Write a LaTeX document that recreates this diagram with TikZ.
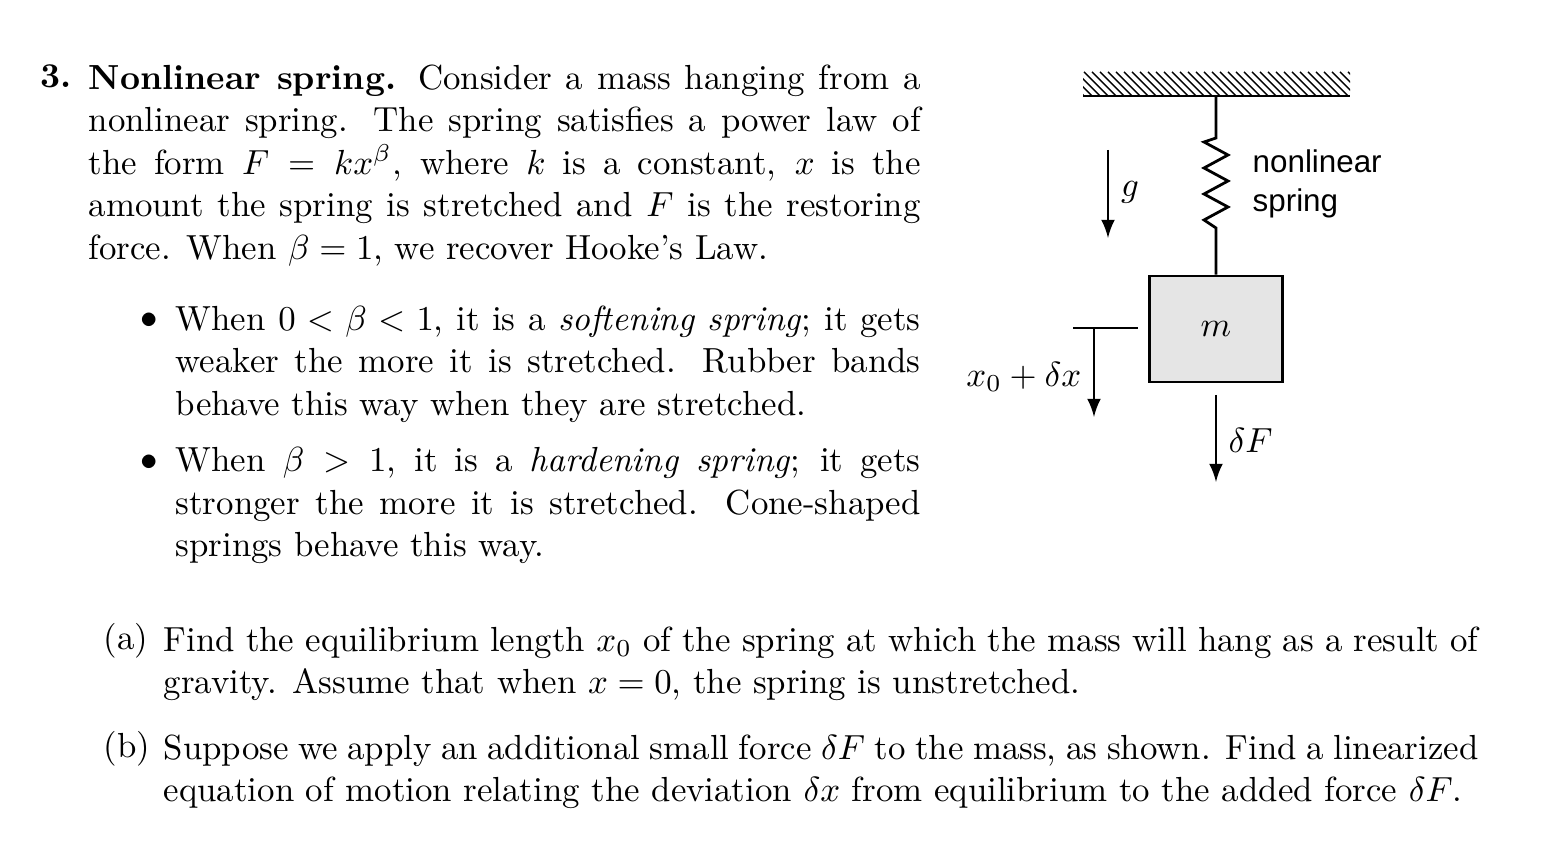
\documentclass[tikz,border=0pt]{standalone}
\usepackage{fontspec}
\newfontfamily\labsans{Liberation Sans}
\begin{document}
\begin{tikzpicture}[x=0.287pt,y=-0.287pt,
  txt/.style={anchor=north west,inner sep=0pt,align=justify},
  arr/.style={-latex,thick},
  ln/.style={thick}]
\useasboundingbox (0,0) rectangle (1544,854);
% text
\node[anchor=base west,inner sep=0pt] (num) at (40,88) {\textbf{3.}};
\node[txt,text width=238.8pt,execute at begin node={\baselineskip=12.2pt}] (p1) at (88,64) {\textbf{Nonlinear spring.} Consider a mass hanging from a\linebreak
nonlinear spring. The spring satisfies a power law of\linebreak
the form $F = kx^\beta$, where $k$ is a constant, $x$ is the\linebreak
amount the spring is stretched and $F$ is the restoring\linebreak
force. When $\beta=1$, we recover Hooke's Law.};
\node[anchor=base west,inner sep=0pt] (b1) at (140,329) {$\bullet$};
\node[txt,text width=213.8pt,execute at begin node={\baselineskip=12.2pt}] (t1) at (175,305) {When $0<\beta<1$, it is a \emph{softening spring}; it gets\linebreak
weaker the more it is stretched. Rubber bands\linebreak
behave this way when they are stretched.};
\node[anchor=base west,inner sep=0pt] (b2) at (140,471) {$\bullet$};
\node[txt,text width=213.8pt,execute at begin node={\baselineskip=12.2pt}] (t2) at (175,447) {When $\beta>1$, it is a \emph{hardening spring}; it gets\linebreak
stronger the more it is stretched. Cone-shaped\linebreak
springs behave this way.};
\node[anchor=base west,inner sep=0pt] (la) at (103,650) {(a)};
\node[txt,text width=377.4pt,execute at begin node={\baselineskip=12.2pt}] (ta) at (163,626) {Find the equilibrium length $x_0$ of the spring at which the mass will hang as a result of\linebreak
gravity. Assume that when $x=0$, the spring is unstretched.};
\node[anchor=base west,inner sep=0pt] (lb) at (103,758) {(b)};
\node[txt,text width=377.4pt,execute at begin node={\baselineskip=12.2pt}] (tb) at (163,734) {Suppose we apply an additional small force $\delta F$ to the mass, as shown. Find a linearized\linebreak
equation of motion relating the deviation $\delta x$ from equilibrium to the added force $\delta F$.};
% ceiling
\begin{scope}
\clip (1083,72) rectangle (1350,96);
\foreach \x in {1060,1068,...,1350} \draw[thin] (\x,72) -- (\x+24,96);
\end{scope}
\coordinate (c1) at (1083,96); \coordinate (c2) at (1350,96);
\draw[ln] (c1) -- (c2);
% spring
\coordinate (top) at (1216,96);
\node[draw,thick,fill=black!10,minimum width=133*0.287pt,minimum height=106*0.287pt,inner sep=0pt] (m) at (1216,329) {$m$};
\draw[ln] (top) -- (1216,138) -- (1204,142) -- (1228,155) -- (1204,168) -- (1228,181) -- (1204,194) -- (1228,207) -- (1204,220) -- (1216,228) -- (m.north);
\node[anchor=west,align=left,inner sep=0pt,font=\labsans\small] (sl) at (1252,184) {nonlinear\\spring};
% g arrow
\coordinate (g1) at (1108,150); \coordinate (g2) at (1108,238);
\draw[arr] (g1) -- (g2);
\node (gl) at (1130,192) {$g$};
% x0 arrow
\coordinate (h1) at (1073,328); \coordinate (h2) at (1138,328);
\draw[ln] (h1) -- (h2);
\coordinate (v1) at (1094,328); \coordinate (v2) at (1094,417);
\draw[arr] (v1) -- (v2);
\node[anchor=east,inner sep=0pt] (xl) at (1082,377) {$x_0+\delta x$};
% dF arrow
\coordinate (f1) at (1216,395); \coordinate (f2) at (1216,482);
\draw[arr] (f1) -- (f2);
\node[anchor=west,inner sep=0pt] (fl) at (1228,440) {$\delta F$};
\end{tikzpicture}
\end{document}
